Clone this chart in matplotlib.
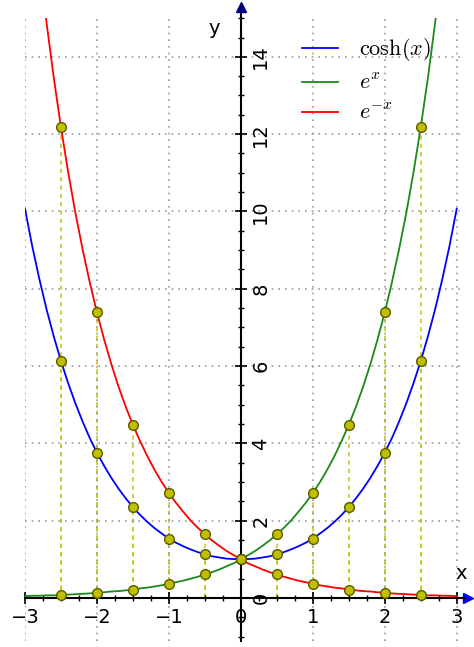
import matplotlib
matplotlib.use("Agg")
import matplotlib.pyplot as plt
from matplotlib.ticker import MultipleLocator

# curve values, x from -3 to 3 in steps of 0.1
xs = [round(-3.0 + 0.1 * k, 1) for k in range(61)]
exp_pos = [0.05, 0.06, 0.06, 0.07, 0.07, 0.08, 0.09, 0.10, 0.11, 0.12,
           0.14, 0.15, 0.17, 0.18, 0.20, 0.22, 0.25, 0.27, 0.30, 0.33,
           0.37, 0.41, 0.45, 0.50, 0.55, 0.61, 0.67, 0.74, 0.82, 0.90,
           1.00,
           1.11, 1.22, 1.35, 1.49, 1.65, 1.82, 2.01, 2.23, 2.46, 2.72,
           3.00, 3.32, 3.67, 4.06, 4.48, 4.95, 5.47, 6.05, 6.69, 7.39,
           8.17, 9.03, 9.97, 11.02, 12.18, 13.46, 14.88, 16.44, 18.17, 20.09]
exp_neg = exp_pos[::-1]
cosh_half = [1.00, 1.01, 1.02, 1.05, 1.08, 1.13, 1.19, 1.26, 1.34, 1.43, 1.54,
             1.67, 1.81, 1.97, 2.15, 2.35, 2.58, 2.83, 3.11, 3.42, 3.76,
             4.14, 4.57, 5.04, 5.56, 6.13, 6.77, 7.47, 8.25, 9.11, 10.07]
cosh_vals = cosh_half[:0:-1] + cosh_half

# marked points every 0.5 from -2.5 to 2.5
idx = list(range(5, 56, 5))

plt.rcParams['mathtext.fontset'] = 'cm'
fig = plt.figure(figsize=(4.74, 6.47), dpi=100)
ax = fig.add_axes([0.0527, 0.0099, 0.926, 0.962])

for series in (cosh_vals, exp_pos, exp_neg):
    px = [xs[i] for i in idx]
    py = [series[i] for i in idx]
    ax.vlines(px, 0, py, colors='#c8c820', linestyles=(0, (2.5, 2.5)), lw=1.2, zorder=1)

ax.plot(xs, cosh_vals, color='b', lw=1.3, label=r'$\cosh(x)$', zorder=2)
ax.plot(xs, exp_pos, color='#1a8a1a', lw=1.3, label=r'$e^{x}$', zorder=2)
ax.plot(xs, exp_neg, color='r', lw=1.3, label=r'$e^{-x}$', zorder=2)

for series in (cosh_vals, exp_pos, exp_neg):
    ax.plot([xs[i] for i in idx], [series[i] for i in idx], 'o', ms=7,
            mfc='y', mec='#5a5a00', mew=1.0, zorder=3)

ax.set_xlim(-3, 3.1)
ax.set_ylim(-1.1, 15)

ax.spines['left'].set_visible(False)
ax.spines['top'].set_visible(False)
ax.spines['right'].set_position(('data', 0))
ax.spines['bottom'].set_position(('data', 0))
ax.spines['right'].set_linewidth(1.5)
ax.spines['bottom'].set_linewidth(1.5)
ax.yaxis.tick_right()

ax.xaxis.set_major_locator(MultipleLocator(1))
ax.xaxis.set_minor_locator(MultipleLocator(0.25))
ax.yaxis.set_major_locator(MultipleLocator(2))
ax.yaxis.set_minor_locator(MultipleLocator(0.5))
ax.tick_params(which='major', direction='inout', length=8, width=1.2, labelsize=14)
ax.tick_params(which='minor', direction='inout', length=4, width=1.0)
for lab in ax.get_yticklabels():
    lab.set_rotation(90)
    lab.set_va('center')

ax.grid(True, color='#9a9a9a', linestyle=(0, (1, 3)), lw=1.2)

# arrows on the axes
ax.plot([0, 0], [15, 15.35], color='k', lw=1.5, clip_on=False)
ax.plot(0, 15.3, '^', color='navy', ms=7, clip_on=False)
ax.plot(3.15, 0, '>', color='b', ms=7, clip_on=False)

fig.text(0.44, 0.947, 'y', fontsize=14)
fig.text(0.96, 0.105, 'x', fontsize=14)

ax.legend(loc='upper right', bbox_to_anchor=(0.97, 1.003), frameon=False,
          fontsize=16, handlelength=1.6, handletextpad=0.95, labelspacing=0.45)

fig.savefig('out.png', dpi=100)
